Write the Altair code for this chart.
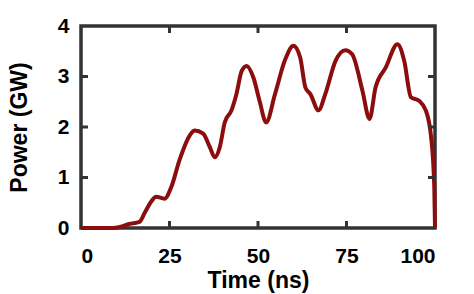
import altair as alt
import pandas as pd

time_ns = [0, 5, 9, 11, 13.6, 16.5, 18, 19.8, 21.2, 23.6, 25.5, 27.8, 30.7, 32.1, 34.5,
           36.4, 37.8, 39.2, 40.6, 42.5, 43.9, 45.4, 46.8, 48.7, 50.5, 52.3, 54.8, 57.7,
           60.0, 61.9, 63.4, 64.8, 67.1, 69.0, 71.9, 74.7, 76.6, 79.5, 81.5, 83.2, 86.1,
           89.4, 91.3, 93.2, 95.5, 97.4, 98.9, 99.8, 100]
power_gw = [0, 0, 0, 0.02, 0.08, 0.12, 0.3, 0.52, 0.62, 0.58, 0.81, 1.34, 1.83, 1.93, 1.87,
            1.60, 1.40, 1.6, 2.09, 2.33, 2.65, 3.11, 3.21, 2.98, 2.5, 2.09, 2.65, 3.34,
            3.61, 3.38, 2.78, 2.65, 2.33, 2.65, 3.31, 3.52, 3.44, 2.72, 2.16, 2.78, 3.18,
            3.64, 3.31, 2.59, 2.52, 2.33, 1.80, 0.81, 0.0]

x_ticks = [25, 50, 75]
y_ticks = [1, 2, 3]
x_labels = [0, 25, 50, 75, 100]
y_labels = [0, 1, 2, 3, 4]

W, H = 354, 202
FONT = "Liberation Sans"
INK = "#333333"

df = pd.DataFrame({"t": time_ns, "p": power_gw})
xt = pd.DataFrame({"t": x_ticks})
yt = pd.DataFrame({"p": y_ticks})

xscale = alt.Scale(domain=[0, 100], nice=False, zero=False)
yscale = alt.Scale(domain=[0, 4], nice=False)

lab = dict(labelFontSize=21, labelFontWeight="bold", labelFont=FONT, labelColor="black",
           titleFont=FONT, titleFontSize=23, titleFontWeight="bold", titleColor="black",
           grid=False, format="d", ticks=False, domain=False)

line = alt.Chart(df).mark_line(color="#8b0d0d", strokeWidth=4, interpolate="monotone").encode(
    x=alt.X("t:Q", scale=xscale,
            axis=alt.Axis(title="Time (ns)", values=x_labels,
                          labelPadding=17, titlePadding=3, **lab)),
    y=alt.Y("p:Q", scale=yscale,
            axis=alt.Axis(title="Power (GW)", values=y_labels,
                          labelPadding=12, titlePadding=26, **lab)),
)

TL = 7
top_ticks = alt.Chart(xt).mark_rule(strokeWidth=3, color=INK).encode(
    x=alt.X("t:Q", scale=xscale), y=alt.value(0), y2=alt.value(TL))
bot_ticks = alt.Chart(xt).mark_rule(strokeWidth=3, color=INK).encode(
    x=alt.X("t:Q", scale=xscale), y=alt.value(H), y2=alt.value(H - TL))
left_ticks = alt.Chart(yt).mark_rule(strokeWidth=3, color=INK).encode(
    y=alt.Y("p:Q", scale=yscale), x=alt.value(0), x2=alt.value(TL))
right_ticks = alt.Chart(yt).mark_rule(strokeWidth=3, color=INK).encode(
    y=alt.Y("p:Q", scale=yscale), x=alt.value(W), x2=alt.value(W - TL))

chart = alt.layer(line, top_ticks, bot_ticks, left_ticks, right_ticks).properties(
    width=W, height=H,
    padding={"left": 8, "top": 15, "right": 5, "bottom": 5},
).configure_view(stroke=INK, strokeWidth=3.5)

chart.save("out.html", embed_options={"renderer": "svg", "actions": False})
